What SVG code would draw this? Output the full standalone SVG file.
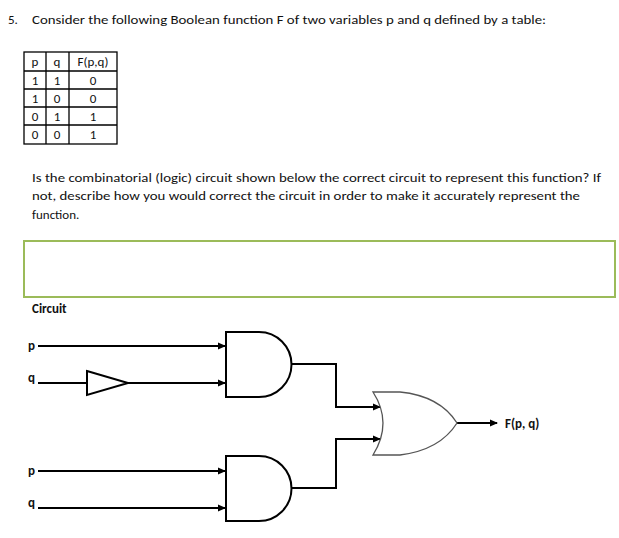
<svg xmlns="http://www.w3.org/2000/svg" width="619" height="538" viewBox="0 0 619 538">
<defs>
<style>
text{font-family:Carlito,"Liberation Sans",Arial,sans-serif;font-size:13px;fill:#111}
.b{font-weight:bold}
.w{stroke:#000;stroke-width:2;fill:none}
.g{stroke:#000;stroke-width:2;fill:#fff}
.t{stroke:#000;stroke-width:1.3;fill:none}
</style>
<marker id="a" markerWidth="8" markerHeight="8" refX="7" refY="4" orient="auto" markerUnits="userSpaceOnUse"><path d="M0,0.5 L8,4 L0,7.5 z" fill="#000"/></marker>
</defs>
<rect width="619" height="538" fill="#fff"/>
<g id="text">
<text x="8" y="24">5.</text>
<text x="32" y="24" textLength="514" lengthAdjust="spacingAndGlyphs">Consider the following Boolean function F of two variables p and q defined by a table:</text>
<text x="32" y="182" textLength="569" lengthAdjust="spacingAndGlyphs">Is the combinatorial (logic) circuit shown below the correct circuit to represent this function? If</text>
<text x="32" y="200" textLength="548" lengthAdjust="spacingAndGlyphs">not, describe how you would correct the circuit in order to make it accurately represent the</text>
<text x="32" y="219">function.</text>
<text x="32" y="313" class="b">Circuit</text>
</g>
<g id="table">
<rect x="24" y="52" width="93" height="92" class="t"/>
<path d="M24,71H117M24,89H117M24,107H117M24,125H117M46,52V144M69,52V144" class="t"/>
<g text-anchor="middle">
<text x="35" y="66">p</text><text x="57" y="66">q</text><text x="93" y="66">F(p,q)</text>
<text x="35" y="85">1</text><text x="57" y="85">1</text><text x="93" y="85">0</text>
<text x="35" y="103">1</text><text x="57" y="103">0</text><text x="93" y="103">0</text>
<text x="35" y="121">0</text><text x="57" y="121">1</text><text x="93" y="121">1</text>
<text x="35" y="139">0</text><text x="57" y="139">0</text><text x="93" y="139">1</text>
</g>
</g>
<rect id="answer" x="24" y="241" width="591" height="56" fill="none" stroke="#9bbb59" stroke-width="2"/>
<g id="labels" class="b">
<text x="28" y="350" class="b">p</text>
<text x="28" y="382" class="b">q</text>
<text x="28" y="475" class="b">p</text>
<text x="28" y="507" class="b">q</text>
<text x="505" y="428" class="b">F(p, q)</text>
</g>
<g id="connectors">
<path d="M38,346H225" class="w" marker-end="url(#a)"/>
<path d="M38,383H87" class="w"/>
<path d="M128,383H225" class="w" marker-end="url(#a)"/>
<path d="M38,471H225" class="w" marker-end="url(#a)"/>
<path d="M38,508H225" class="w" marker-end="url(#a)"/>
<path d="M291,364H336V407H380" class="w" marker-end="url(#a)"/>
<path d="M291,488H336V439H380" class="w" marker-end="url(#a)"/>
<path d="M457,423H497" class="w" marker-end="url(#a)"/>
</g>
<g id="not"><path d="M87,371L128,383L87,395Z" class="g"/></g>
<g id="and1"><path d="M226,332H259A32.5,32.5 0 0 1 259,397H226Z" class="g"/></g>
<g id="and2"><path d="M226,456H259A32.5,32.5 0 0 1 259,521H226Z" class="g"/></g>
<g id="or"><path d="M373,392Q393,423 373,455H400Q440,450 457,423Q440,396 400,392Z" fill="#fff" stroke="#555" stroke-width="1.3"/></g>
</svg>
